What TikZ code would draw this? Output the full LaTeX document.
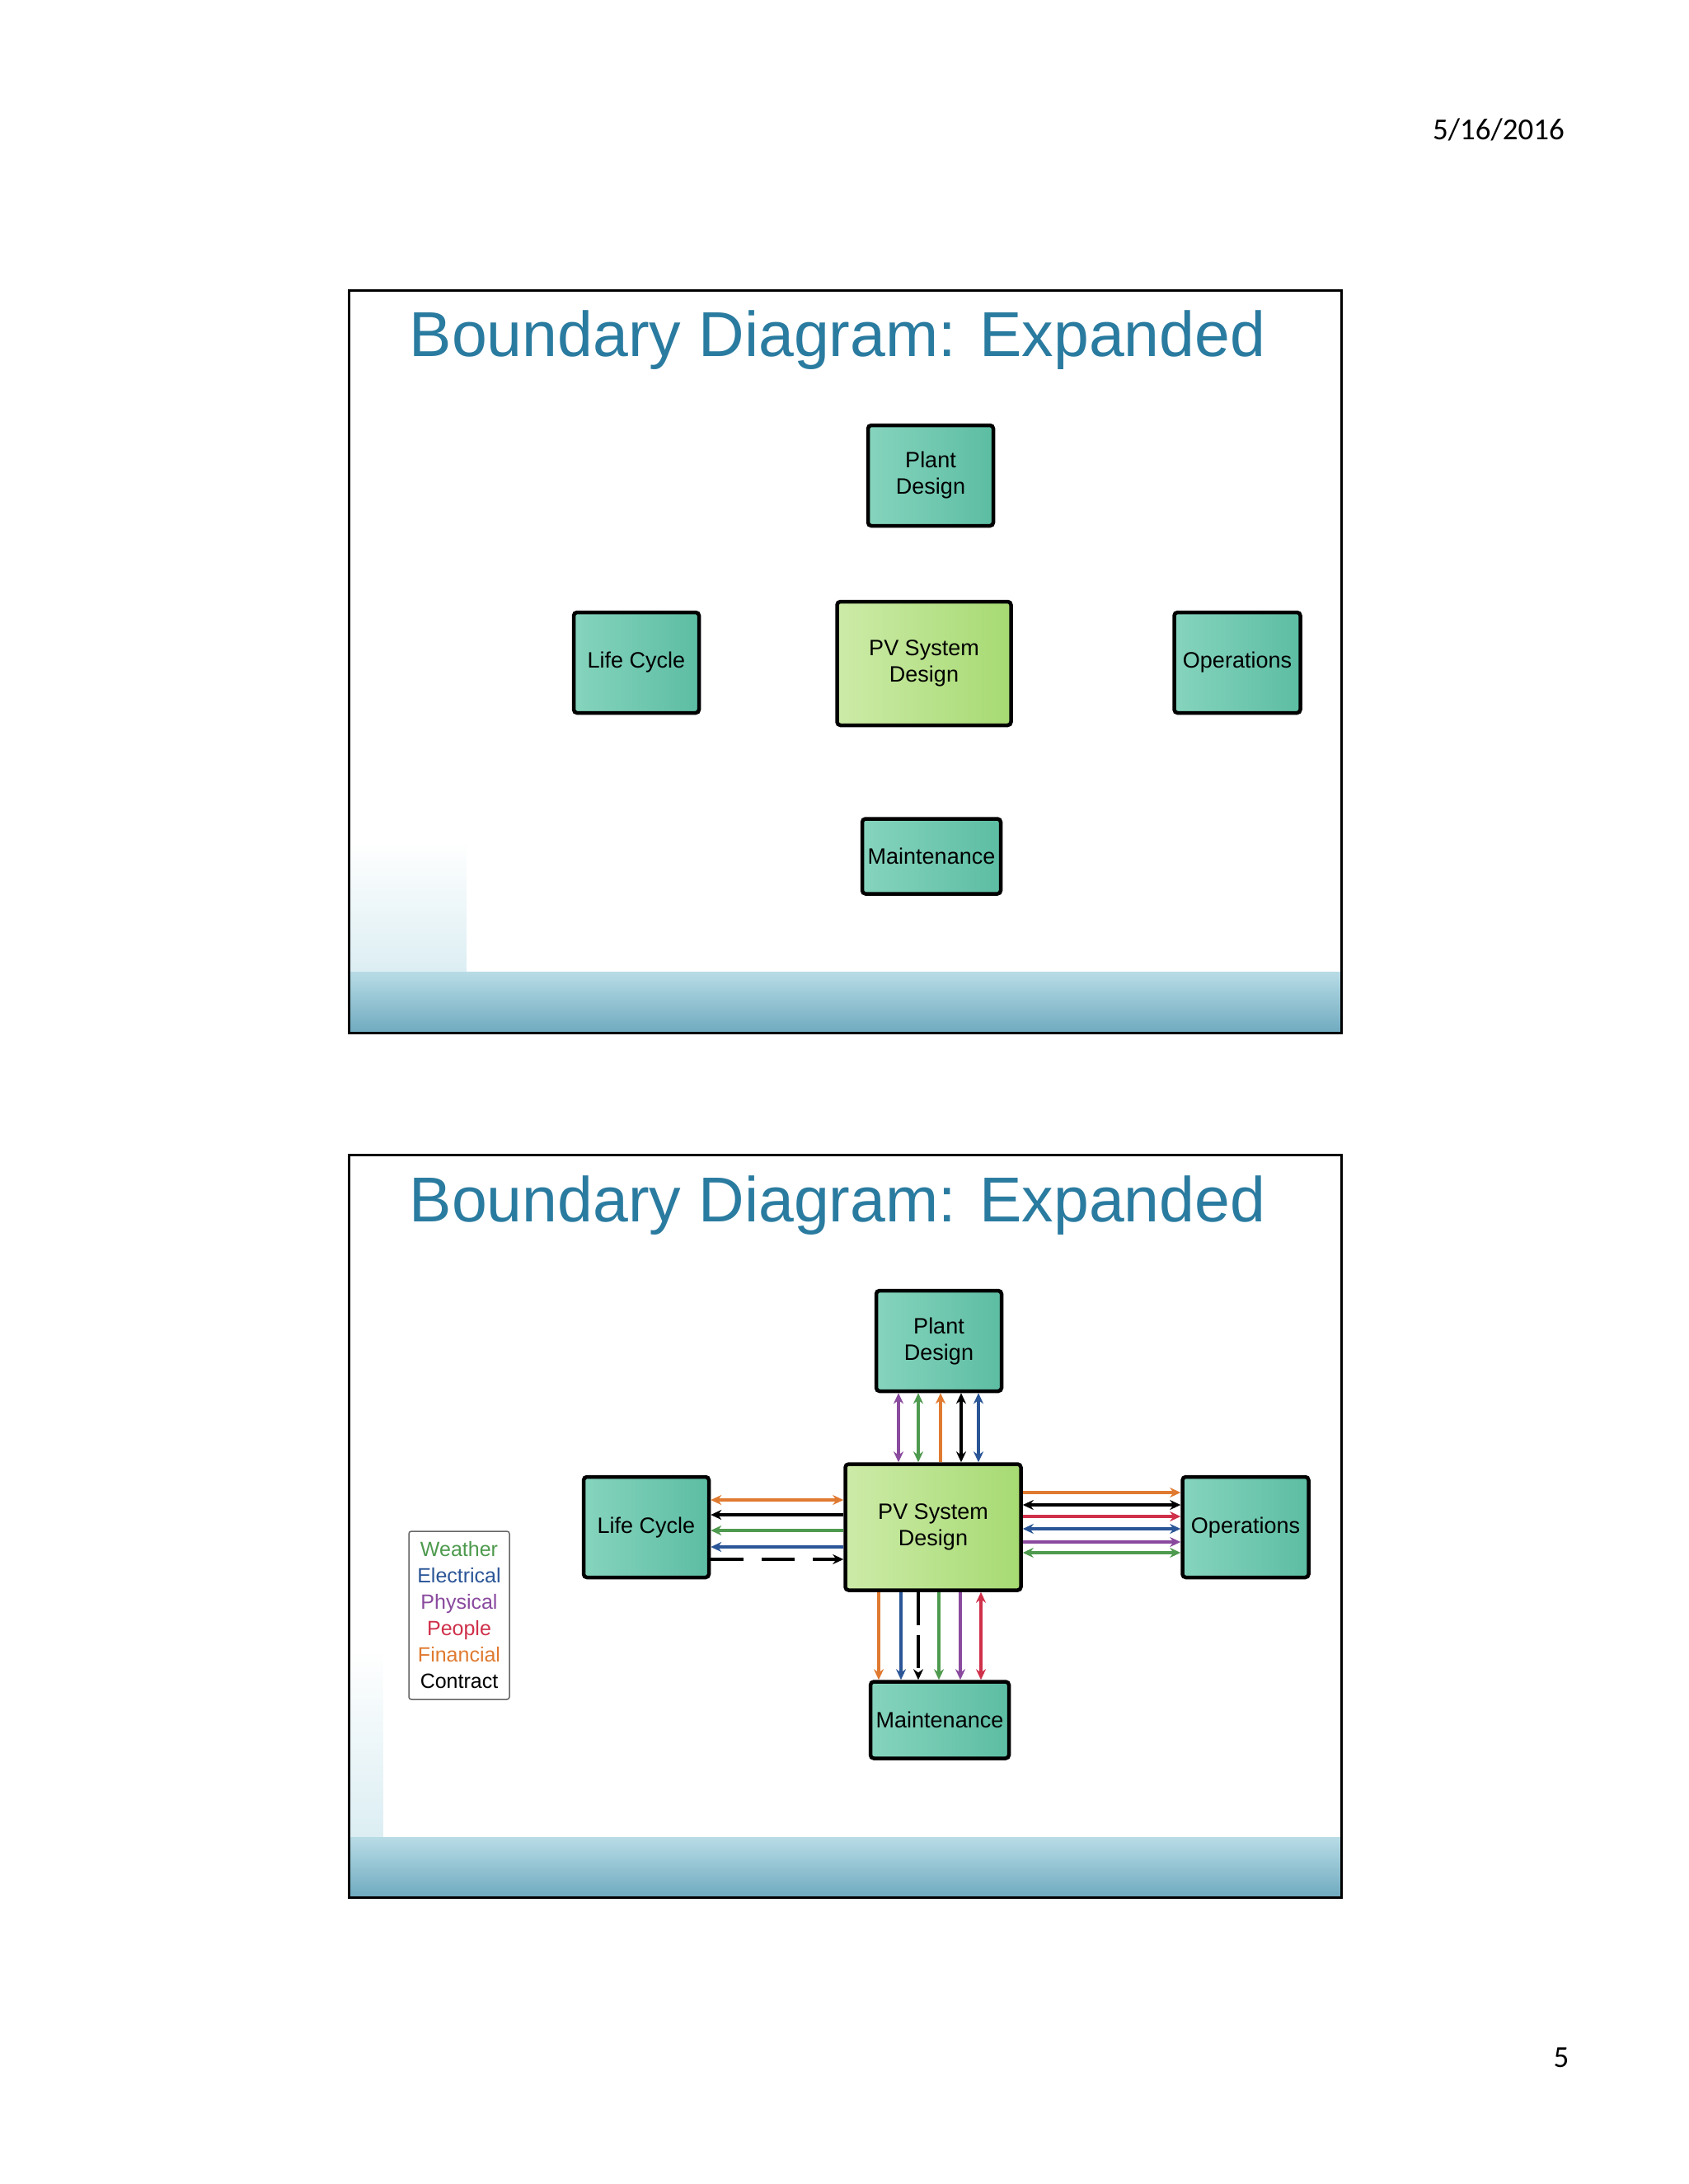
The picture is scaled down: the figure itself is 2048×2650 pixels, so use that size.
\documentclass[tikz,border=0pt]{standalone}
\usepackage{fontspec}
\setmainfont{Liberation Sans}
\newfontfamily\carfont{Carlito}
\usetikzlibrary{arrows.meta}
\definecolor{ttl}{HTML}{2A7BA0}
\definecolor{cOr}{HTML}{E07A30}
\definecolor{cRd}{HTML}{D0304A}
\definecolor{cBl}{HTML}{2A5597}
\definecolor{cPu}{HTML}{8A4A9E}
\definecolor{cGr}{HTML}{4E9A4E}
\definecolor{tealA}{HTML}{86D4BD}
\definecolor{tealB}{HTML}{5CBDA3}
\definecolor{lgA}{HTML}{CDEBA8}
\definecolor{lgB}{HTML}{A6DA72}
\definecolor{bandA}{HTML}{B8DCE6}
\definecolor{bandB}{HTML}{6FAABF}
\definecolor{fadeA}{HTML}{DCEEF3}
\begin{document}
\begin{tikzpicture}[x=1pt,y=-1pt,
  box/.style={draw=black,line width=4.5pt,rounded corners=4pt,left color=tealA,right color=tealB,align=center,font=\fontsize{27}{32}\selectfont,inner sep=0pt},
  pvbox/.style={box,left color=lgA,right color=lgB},
  title/.style={text=ttl,font=\fontsize{77}{84}\selectfont},
  ar/.style={line width=4.5pt,-{Stealth[length=13pt,width=12pt]}},
  bi/.style={line width=4.5pt,{Stealth[length=13pt,width=12pt]}-{Stealth[length=13pt,width=12pt]}},
  frame/.style={draw=black,line width=3pt}]
\useasboundingbox (0,0) rectangle (2048,2650);
\fill[white] (0,0) rectangle (2048,2650);
\node[font=\carfont\fontsize{37}{40}\selectfont] (date) at (1818,157) {5/16/2016};
\node[font=\carfont\fontsize{37}{40}\selectfont] (pg) at (1894,2497) {5};
% slide 1
\shade[top color=white,bottom color=fadeA] (423,1020) rectangle (566,1179);
\shade[top color=bandA,bottom color=bandB] (423,1179) rectangle (1627,1253);
\fill[white] (566,400) rectangle (1611,1179);
\draw[frame] (423,352) rectangle (1627,1253);
\node[title] (t1) at (1016,413) {Boundary Diagram: Expanded};
\node[box,minimum width=152pt,minimum height=122pt] (pd1) at (1129,577) {Plant\\Design};
\node[box,minimum width=152pt,minimum height=122pt] (lc1) at (772,804) {Life Cycle};
\node[pvbox,minimum width=211pt,minimum height=150pt] (pv1) at (1121,805) {PV System\\Design};
\node[box,minimum width=153pt,minimum height=122pt] (op1) at (1501,804) {Operations};
\node[box,minimum width=168pt,minimum height=91pt] (mt1) at (1130,1039) {Maintenance};
% slide 2
\shade[top color=white,bottom color=fadeA] (423,2000) rectangle (465,2229);
\shade[top color=bandA,bottom color=bandB] (423,2229) rectangle (1627,2302);
\fill[white] (465,1450) rectangle (1627,2229);
\draw[frame] (423,1401) rectangle (1627,2302);
\node[title] (t2) at (1016,1463) {Boundary Diagram: Expanded};
\node[box,minimum width=152pt,minimum height=122pt] (pd) at (1139,1627) {Plant\\Design};
\node[box,minimum width=152pt,minimum height=122pt] (lc) at (784,1853) {Life Cycle};
\node[pvbox,minimum width=213pt,minimum height=153pt] (pv) at (1132,1853) {PV System\\Design};
\node[box,minimum width=153pt,minimum height=122pt] (op) at (1511,1853) {Operations};
\node[box,minimum width=168pt,minimum height=93pt] (mt) at (1140,2087) {Maintenance};
\node[draw=black!60,line width=1.5pt,rounded corners=3pt,fill=white,minimum width=122pt,minimum height=204pt,align=center,inner sep=0pt,font=\fontsize{25}{32}\selectfont] (leg) at (557,1960)
 {\textcolor{cGr}{Weather}\\\textcolor{cBl}{Electrical}\\\textcolor{cPu}{Physical}\\\textcolor{cRd}{People}\\\textcolor{cOr}{Financial}\\Contract};
% top arrows
\draw[bi,cPu] (pv.north -| 1090,0) -- (pd.south -| 1090,0);
\draw[bi,cGr] (pv.north -| 1114,0) -- (pd.south -| 1114,0);
\draw[ar,cOr] (pv.north -| 1141,0) -- (pd.south -| 1141,0);
\draw[bi,black] (pv.north -| 1166,0) -- (pd.south -| 1166,0);
\draw[bi,cBl] (pv.north -| 1187,0) -- (pd.south -| 1187,0);
% left arrows
\draw[bi,cOr] (pv.west |- 0,1820) -- (lc.east |- 0,1820);
\draw[ar,black] (pv.west |- 0,1838) -- (lc.east |- 0,1838);
\draw[ar,cGr] (pv.west |- 0,1857) -- (lc.east |- 0,1857);
\draw[ar,cBl] (pv.west |- 0,1877) -- (lc.east |- 0,1877);
\draw[ar,black,dash pattern=on 40pt off 22pt] (lc.east |- 0,1892) -- (pv.west |- 0,1892);
% right arrows
\draw[ar,cOr] (pv.east |- 0,1811) -- (op.west |- 0,1811);
\draw[bi,black] (pv.east |- 0,1826) -- (op.west |- 0,1826);
\draw[ar,cRd] (pv.east |- 0,1840) -- (op.west |- 0,1840);
\draw[bi,cBl] (pv.east |- 0,1855) -- (op.west |- 0,1855);
\draw[ar,cPu] (pv.east |- 0,1871) -- (op.west |- 0,1871);
\draw[bi,cGr] (pv.east |- 0,1884) -- (op.west |- 0,1884);
% bottom arrows
\draw[ar,cOr] (pv.south -| 1066,0) -- (mt.north -| 1066,0);
\draw[ar,cBl] (pv.south -| 1093,0) -- (mt.north -| 1093,0);
\draw[ar,black,dash pattern=on 40pt off 12pt] (pv.south -| 1114,0) -- (mt.north -| 1114,0);
\draw[ar,cGr] (pv.south -| 1139,0) -- (mt.north -| 1139,0);
\draw[ar,cPu] (pv.south -| 1165,0) -- (mt.north -| 1165,0);
\draw[bi,cRd] (pv.south -| 1190,0) -- (mt.north -| 1190,0);
\end{tikzpicture}
\end{document}
